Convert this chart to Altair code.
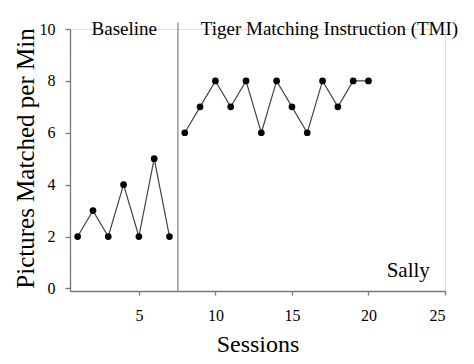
import altair as alt
import pandas as pd

base_sessions = [1, 2, 3, 4, 5, 6, 7]
base_values = [2, 3, 2, 4, 2, 5, 2]
tmi_sessions = [8, 9, 10, 11, 12, 13, 14, 15, 16, 17, 18, 19, 20]
tmi_values = [6, 7, 8, 7, 8, 6, 8, 7, 6, 8, 7, 8, 8]
x_ticks = [5, 10, 15, 20, 25]
y_ticks = [0, 2, 4, 6, 8, 10]
phase_change = 7.55
phase_labels = ["Baseline", "Tiger Matching Instruction (TMI)"]
phase_label_x = [4.05, 17.45]
participant = "Sally"

df = pd.DataFrame({
    "session": base_sessions + tmi_sessions,
    "value": base_values + tmi_values,
    "phase": ["Baseline"] * len(base_sessions) + ["TMI"] * len(tmi_sessions),
})

FONT = "Liberation Serif"
xs = alt.Scale(domain=[0.5, 25], nice=False, zero=False)
ys = alt.Scale(domain=[-0.1, 10], nice=False, zero=False)

x_axis = alt.Axis(values=x_ticks, title="Sessions", grid=False, domainColor="#777",
                  tickColor="#777", tickSize=4, labelFontSize=16, labelFont=FONT,
                  labelColor="black", labelPadding=12, titleFont=FONT, titleFontSize=24,
                  titleFontWeight="normal", titleColor="black", titleBaseline="alphabetic",
                  titleY=60, domainWidth=1.3, tickWidth=1.3)
y_axis = alt.Axis(values=y_ticks, title="Pictures Matched per Min", grid=False,
                  domainColor="#777", tickColor="#777", tickSize=5, labelFontSize=16,
                  labelFont=FONT, labelColor="black", labelPadding=10, titleFont=FONT,
                  titleFontSize=25, titleFontWeight="normal", titleColor="black",
                  titleBaseline="alphabetic", titleX=-37, titleY=129, titleAngle=-90,
                  domainWidth=1.3, tickWidth=1.3)

line = alt.Chart(df).mark_line(color="#444", strokeWidth=1.2).encode(
    x=alt.X("session:Q", scale=xs, axis=x_axis),
    y=alt.Y("value:Q", scale=ys, axis=y_axis),
    detail="phase:N",
)
pts = alt.Chart(df).mark_point(filled=True, color="black", size=45, opacity=1).encode(
    x=alt.X("session:Q", scale=xs),
    y=alt.Y("value:Q", scale=ys),
)

rule_df = pd.DataFrame({"x": [phase_change], "y": [-0.1], "y2": [10.25]})
rule = alt.Chart(rule_df).mark_rule(color="#888", strokeWidth=1.3).encode(
    x=alt.X("x:Q", scale=xs), y=alt.Y("y:Q", scale=ys), y2="y2:Q"
)

lab_df = pd.DataFrame({"x": phase_label_x, "y": [10, 10], "t": phase_labels})
labels = alt.Chart(lab_df).mark_text(font=FONT, fontSize=19, color="black",
                                     baseline="middle").encode(
    x=alt.X("x:Q", scale=xs), y=alt.Y("y:Q", scale=ys), text="t:N"
)

sally_df = pd.DataFrame({"x": [22.6], "y": [0.43], "t": [participant]})
sally = alt.Chart(sally_df).mark_text(font=FONT, fontSize=21, color="black",
                                      baseline="alphabetic").encode(
    x=alt.X("x:Q", scale=xs), y=alt.Y("y:Q", scale=ys), text="t:N"
)

chart = alt.layer(rule, line, pts, labels, sally).properties(
    width=375, height=262,
    autosize=alt.AutoSizeParams(type="none"),
    padding={"left": 62, "top": 21, "right": 21, "bottom": 65},
).configure_view(stroke=None).configure(background="white")

chart.save("out.html", embed_options={"renderer": "svg", "actions": False})
